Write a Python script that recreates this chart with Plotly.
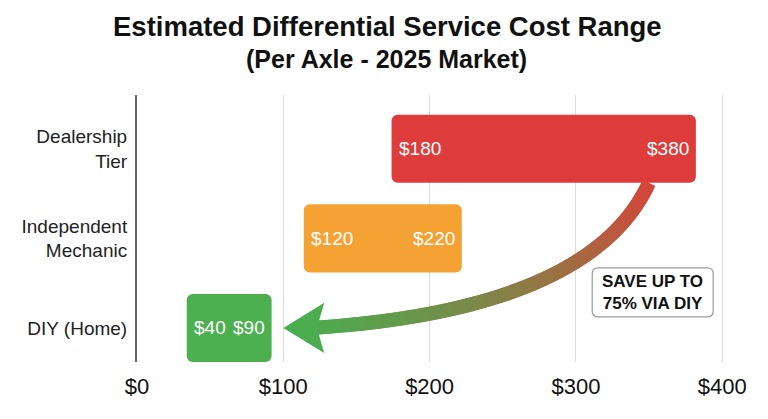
import plotly.graph_objects as go

# ---------------- data ----------------
categories = ["DIY (Home)", "Independent Mechanic", "Dealership Tier"]
category_labels = ["DIY (Home)", "Independent<br>Mechanic", "Dealership<br>Tier"]
low_cost = [40, 120, 180]
high_cost = [90, 220, 380]
bar_colors = ["#4CAF50", "#F3A233", "#DD3C3B"]
x_tick_values = [0, 100, 200, 300, 400]
x_tick_labels = ["$0", "$100", "$200", "$300", "$400"]
title_text = "Estimated Differential Service Cost Range"
subtitle_text = "(Per Axle - 2025 Market)"
callout_text = "SAVE UP TO<br>75% VIA DIY"

# ---------------- style / layout ----------------
FONT = "Liberation Sans, Arial, Helvetica, sans-serif"
W, H = 768, 419
M_L, M_R, M_T, M_B = 137, 18, 95, 57
X_RANGE = [0, 419]
Y_RANGE = [-0.38, 2.6]
BAR_W = 0.76
BAR_PAD_L, BAR_PAD_R = 6, 2        # visual padding so the inside labels fit
PX_X = (W - M_L - M_R) / (X_RANGE[1] - X_RANGE[0])   # px per $ unit
PX_Y = (H - M_T - M_B) / (Y_RANGE[1] - Y_RANGE[0])   # px per category unit

y_pos = list(range(len(categories)))
bar_start = [l - BAR_PAD_L for l in low_cost]
bar_end = [h + BAR_PAD_R for h in high_cost]

fig = go.Figure()
fig.add_trace(go.Bar(
    y=y_pos,
    x=[e - s for s, e in zip(bar_start, bar_end)],
    base=bar_start,
    orientation="h",
    width=BAR_W,
    marker=dict(color=bar_colors, line=dict(width=0)),
    customdata=[[c, l, h] for c, l, h in zip(categories, low_cost, high_cost)],
    hovertemplate="%{customdata[0]}: $%{customdata[1]} - $%{customdata[2]}<extra></extra>",
    showlegend=False,
))

annotations = []
shapes = []

# labels inside bars
for i, (l, h) in enumerate(zip(low_cost, high_cost)):
    annotations.append(dict(x=bar_start[i], y=i, xref="x", yref="y", text=f"${l}", showarrow=False,
                            xanchor="left", yanchor="middle", xshift=5,
                            font=dict(family=FONT, size=19, color="white")))
    annotations.append(dict(x=bar_end[i], y=i, xref="x", yref="y", text=f"${h}", showarrow=False,
                            xanchor="right", yanchor="middle", xshift=-5,
                            font=dict(family=FONT, size=19, color="white")))

# curved gradient arrow from dealership bar to DIY bar
start = (high_cost[2] - 30, 2 - BAR_W / 2)
ctrl = (310, 0.2)
tip = (high_cost[0] + 10, 0)
head_len = 28
head_half = 0.28
end = (tip[0] + head_len * 0.7, tip[1])
c0 = (214, 68, 58)
c1 = (76, 172, 80)
N = 60
pts = []
for k in range(N + 1):
    t = k / N
    x = (1 - t) ** 2 * start[0] + 2 * t * (1 - t) * ctrl[0] + t ** 2 * end[0]
    y = (1 - t) ** 2 * start[1] + 2 * t * (1 - t) * ctrl[1] + t ** 2 * end[1]
    pts.append((x, y, t))
for k in range(N):
    x0, y0, t0 = pts[k]
    x1, y1, _ = pts[min(k + 2, N)]
    col = tuple(round(a + (b - a) * t0) for a, b in zip(c0, c1))
    shapes.append(dict(type="line", xref="x", yref="y", x0=x0, y0=y0, x1=x1, y1=y1,
                       line=dict(color=f"rgb{col}", width=14), layer="above"))
# arrow head
notch_x = tip[0] + head_len * 0.82
back_x = tip[0] + head_len
head_path = (f"M {tip[0]},{tip[1]} L {back_x},{tip[1] + head_half} "
             f"L {notch_x},{tip[1]} L {back_x},{tip[1] - head_half} Z")
shapes.append(dict(type="path", xref="x", yref="y", path=head_path,
                   fillcolor="rgb(76,172,80)", line=dict(width=0), layer="above"))

# callout box (rounded)
cx, cy = 352.5, 0.397
bw, bh = 121 / PX_X, 49 / PX_Y
rx, ry = 6 / PX_X, 6 / PX_Y
x0, x1 = cx - bw / 2, cx + bw / 2
y0, y1 = cy - bh / 2, cy + bh / 2
box_path = (f"M {x0 + rx},{y1} L {x1 - rx},{y1} Q {x1},{y1} {x1},{y1 - ry} "
            f"L {x1},{y0 + ry} Q {x1},{y0} {x1 - rx},{y0} "
            f"L {x0 + rx},{y0} Q {x0},{y0} {x0},{y0 + ry} "
            f"L {x0},{y1 - ry} Q {x0},{y1} {x0 + rx},{y1} Z")
shapes.append(dict(type="path", xref="x", yref="y", path=box_path,
                   fillcolor="white", line=dict(color="#9A9A9A", width=1.2), layer="above"))
annotations.append(dict(x=cx, y=cy, xref="x", yref="y", text=f"<b>{callout_text}</b>",
                        showarrow=False, xanchor="center", yanchor="middle", align="center",
                        font=dict(family=FONT, size=17, color="#111111")))

# titles
plot_h = H - M_T - M_B
plot_w = W - M_L - M_R
annotations.append(dict(x=(387 - M_L) / plot_w, y=(H - M_B - 26) / plot_h, xref="paper", yref="paper",
                        text=f"<b>{title_text}</b>", showarrow=False, xanchor="center", yanchor="middle",
                        font=dict(family=FONT, size=27.5, color="#111111")))
annotations.append(dict(x=(386 - M_L) / plot_w, y=(H - M_B - 59) / plot_h, xref="paper", yref="paper",
                        text=f"<b>{subtitle_text}</b>", showarrow=False, xanchor="center", yanchor="middle",
                        font=dict(family=FONT, size=25, color="#111111")))

fig.update_layout(
    width=W, height=H,
    margin=dict(l=M_L, r=M_R, t=M_T, b=M_B, pad=0),
    paper_bgcolor="white", plot_bgcolor="white",
    barcornerradius=6,
    showlegend=False,
    annotations=annotations,
    shapes=shapes,
    font=dict(family=FONT),
)
fig.update_xaxes(
    range=X_RANGE, tickmode="array", tickvals=x_tick_values, ticktext=x_tick_labels,
    showgrid=True, gridcolor="#DDDDDD", gridwidth=1, zeroline=False, showline=False,
    ticks="outside", ticklen=5, tickcolor="rgba(0,0,0,0)",
    tickfont=dict(family=FONT, size=22, color="#111111"), fixedrange=True,
)
fig.update_yaxes(
    range=Y_RANGE, tickmode="array", tickvals=y_pos, ticktext=category_labels,
    showgrid=False, zeroline=False, showline=True, linecolor="#666666", linewidth=2,
    ticks="outside", ticklen=4, tickcolor="rgba(0,0,0,0)",
    tickfont=dict(family=FONT, size=19, color="#222222"), fixedrange=True,
)

fig.write_html("out.html")
